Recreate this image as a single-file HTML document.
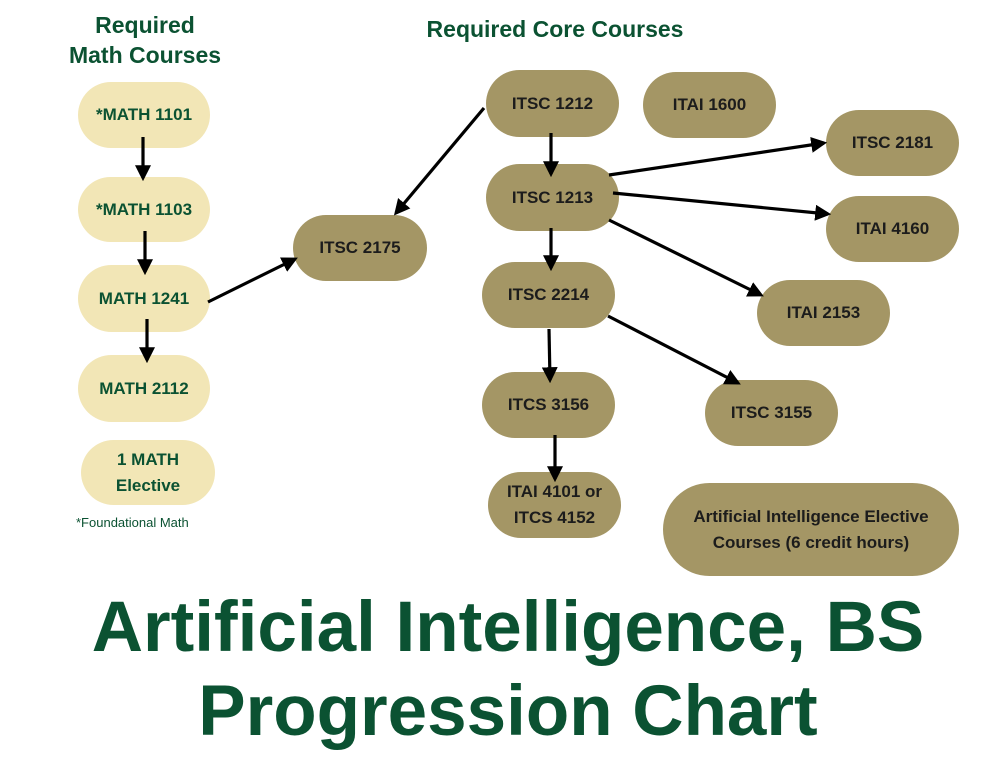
<!DOCTYPE html>
<html><head><meta charset="utf-8"><style>
body{margin:0;width:1000px;height:773px;background:#fff;position:relative;overflow:hidden;font-family:"Liberation Sans",sans-serif;font-weight:bold}
.n{position:absolute;border-radius:40px;display:flex;align-items:center;justify-content:center;text-align:center;font-size:17px;line-height:26px}
.m{background:#F2E6B6;color:#0B5232}
.g{background:#A49665;color:#1c1c1c}
.h{position:absolute;color:#0B5232;font-size:23px;text-align:center;line-height:30px}
svg{position:absolute;left:0;top:0}
</style></head><body>
<div class="h" style="left:40px;top:10px;width:210px">Required<br>Math Courses</div>
<div class="h" style="left:380px;top:14px;width:350px">Required Core Courses</div>
<div class="n m" style="left:78px;top:82px;width:132px;height:66px">*MATH 1101</div>
<div class="n m" style="left:78px;top:177px;width:132px;height:65px">*MATH 1103</div>
<div class="n m" style="left:78px;top:265px;width:132px;height:67px">MATH 1241</div>
<div class="n m" style="left:78px;top:355px;width:132px;height:67px">MATH 2112</div>
<div class="n m" style="left:81px;top:440px;width:134px;height:65px">1 MATH<br>Elective</div>
<div style="position:absolute;left:76px;top:515px;font-size:13px;font-weight:normal;color:#0B5232">*Foundational Math</div>
<div class="n g" style="left:293px;top:215px;width:134px;height:66px">ITSC 2175</div>
<div class="n g" style="left:486px;top:70px;width:133px;height:67px">ITSC 1212</div>
<div class="n g" style="left:643px;top:72px;width:133px;height:66px">ITAI 1600</div>
<div class="n g" style="left:486px;top:164px;width:133px;height:67px">ITSC 1213</div>
<div class="n g" style="left:482px;top:262px;width:133px;height:66px">ITSC 2214</div>
<div class="n g" style="left:826px;top:110px;width:133px;height:66px">ITSC 2181</div>
<div class="n g" style="left:826px;top:196px;width:133px;height:66px">ITAI 4160</div>
<div class="n g" style="left:757px;top:280px;width:133px;height:66px">ITAI 2153</div>
<div class="n g" style="left:482px;top:372px;width:133px;height:66px">ITCS 3156</div>
<div class="n g" style="left:705px;top:380px;width:133px;height:66px">ITSC 3155</div>
<div class="n g" style="left:488px;top:472px;width:133px;height:66px">ITAI 4101 or<br>ITCS 4152</div>
<div class="n g" style="left:663px;top:483px;width:296px;height:93px;border-radius:47px">Artificial Intelligence Elective<br>Courses (6 credit hours)</div>
<svg width="1000" height="773">
<defs><marker id="a" markerWidth="5" markerHeight="5" refX="4" refY="2.5" orient="auto" markerUnits="strokeWidth"><path d="M0,0L5,2.5L0,5z" fill="#000"/></marker></defs>
<g stroke="#000" stroke-width="3.2" fill="none" marker-end="url(#a)">
<line x1="143" y1="137" x2="143" y2="178"/>
<line x1="145" y1="231" x2="145" y2="272"/>
<line x1="147" y1="319" x2="147" y2="360"/>
<line x1="208" y1="302" x2="295" y2="259"/>
<line x1="484" y1="108" x2="396" y2="213"/>
<line x1="551" y1="133" x2="551" y2="174"/>
<line x1="551" y1="228" x2="551" y2="268"/>
<line x1="549" y1="329" x2="550" y2="380"/>
<line x1="555" y1="435" x2="555" y2="479"/>
<line x1="609" y1="175" x2="824" y2="143"/>
<line x1="613" y1="193" x2="828" y2="214"/>
<line x1="609" y1="220" x2="761" y2="295"/>
<line x1="608" y1="316" x2="738" y2="383"/>
</g></svg>
<div style="position:absolute;left:0;top:586px;width:1016px;text-align:center;color:#0B5232;font-size:71px;line-height:84px">Artificial Intelligence, BS<br>Progression Chart</div>
</body></html>
